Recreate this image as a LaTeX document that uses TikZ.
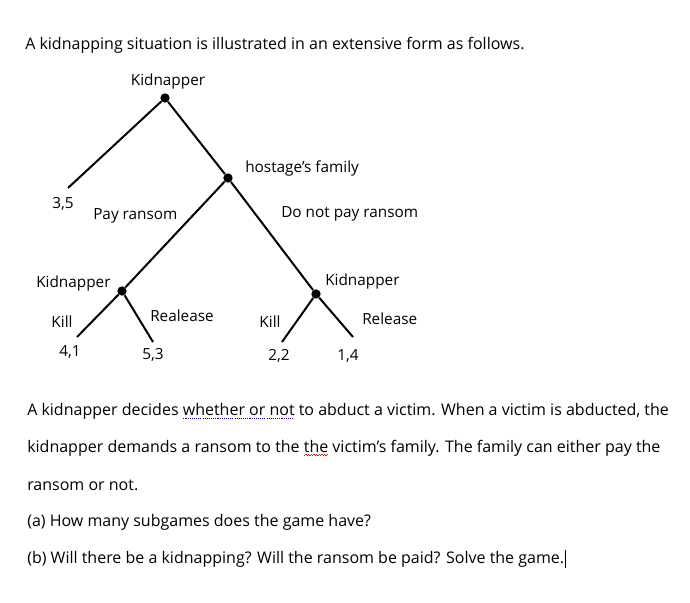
\documentclass[tikz,border=0pt]{standalone}
\usepackage{fontspec}
\setmainfont{Open Sans}
\newcommand\myblueul[1]{\begingroup\setbox0\hbox{#1}\rlap{\color{blue!70!black}\raisebox{-3pt}{\hbox to \wd0{\leaders\hbox to 1.6pt{\hss\rule{0.8pt}{0.7pt}\hss}\hfill}}}\box0\endgroup}
\newcommand\myredul[1]{\begingroup\setbox0\hbox{#1}\rlap{\color{red}\raisebox{-3pt}{\hbox to \wd0{\leaders\hbox to 2pt{\hss\rule{1pt}{0.6pt}\raisebox{0.8pt}{\rule{1pt}{0.6pt}}\hss}\hfill}}}\box0\endgroup}
\begin{document}
\begin{tikzpicture}[x=0.75pt,y=-0.75pt,
  br/.style={line width=1.5pt},
  dot/.style={circle,fill=black,inner sep=0pt,minimum size=7pt},
  lbl/.style={font=\fontsize{11.5}{13}\selectfont,inner sep=0pt},
  txt/.style={font=\fontsize{12}{14}\selectfont,inner sep=0pt,anchor=west}]
\useasboundingbox (0,0) rectangle (690,603);
\node[txt] (title) at (25,45) {A kidnapping situation is illustrated in an extensive form as follows.};
% tree
\node[dot] (r) at (165,98) {};
\coordinate (e35) at (68,188);
\node[dot] (f) at (228,178) {};
\node[dot] (kl) at (122,291) {};
\node[dot] (kr) at (316,294) {};
\coordinate (e41) at (77,337);
\coordinate (e53) at (153,342);
\coordinate (e22) at (282,342);
\coordinate (e14) at (353,337);
\draw[br] (r) -- (e35);
\draw[br] (r) -- (f);
\draw[br] (f) -- (kl);
\draw[br] (f) -- (kr);
\draw[br] (kr) -- (e14);
\draw[br] (kr) -- (e22);
\draw[br] (kl) -- (e41);
\draw[br] (kl) -- (e53);
\node[lbl] (l1) at (168,82) {Kidnapper};
\node[lbl,anchor=west] (l2) at (245,168) {hostage's family};
\node[lbl] (l3) at (63,204) {3,5};
\node[lbl,anchor=west] (l4) at (93,216) {Pay ransom};
\node[lbl,anchor=west] (l5) at (281,214) {Do not pay ransom};
\node[lbl,anchor=west] (l6) at (36,284) {Kidnapper};
\node[lbl,anchor=west] (l7) at (325,282) {Kidnapper};
\node[lbl] (l8) at (62,322) {Kill};
\node[lbl,anchor=west] (l9) at (150,316) {Realease};
\node[lbl] (l10) at (270,322) {Kill};
\node[lbl,anchor=west] (l11) at (362,319) {Release};
\node[lbl] (l12) at (70,352) {4,1};
\node[lbl] (l13) at (153,355) {5,3};
\node[lbl] (l14) at (279,356) {2,2};
\node[lbl] (l15) at (348,356) {1,4};
% paragraph
\node[txt] (p1) at (27,411) {A kidnapper decides \myblueul{whether or not} to abduct a victim. When a victim is abducted, the};
\node[txt] (p2) at (27,448) {kidnapper demands a ransom to the \myredul{the} victim’s family. The family can either pay the};
\node[txt] (p3) at (27,485) {ransom or not.};
\node[txt] (p4) at (27,522) {(a) How many subgames does the game have?};
\node[txt] (p5) at (27,559) {(b) Will there be a kidnapping? Will the ransom be paid? Solve the game.};
\draw[line width=0.6pt] (p5.east)++(1,-9) -- ++(0,18);
\end{tikzpicture}
\end{document}
